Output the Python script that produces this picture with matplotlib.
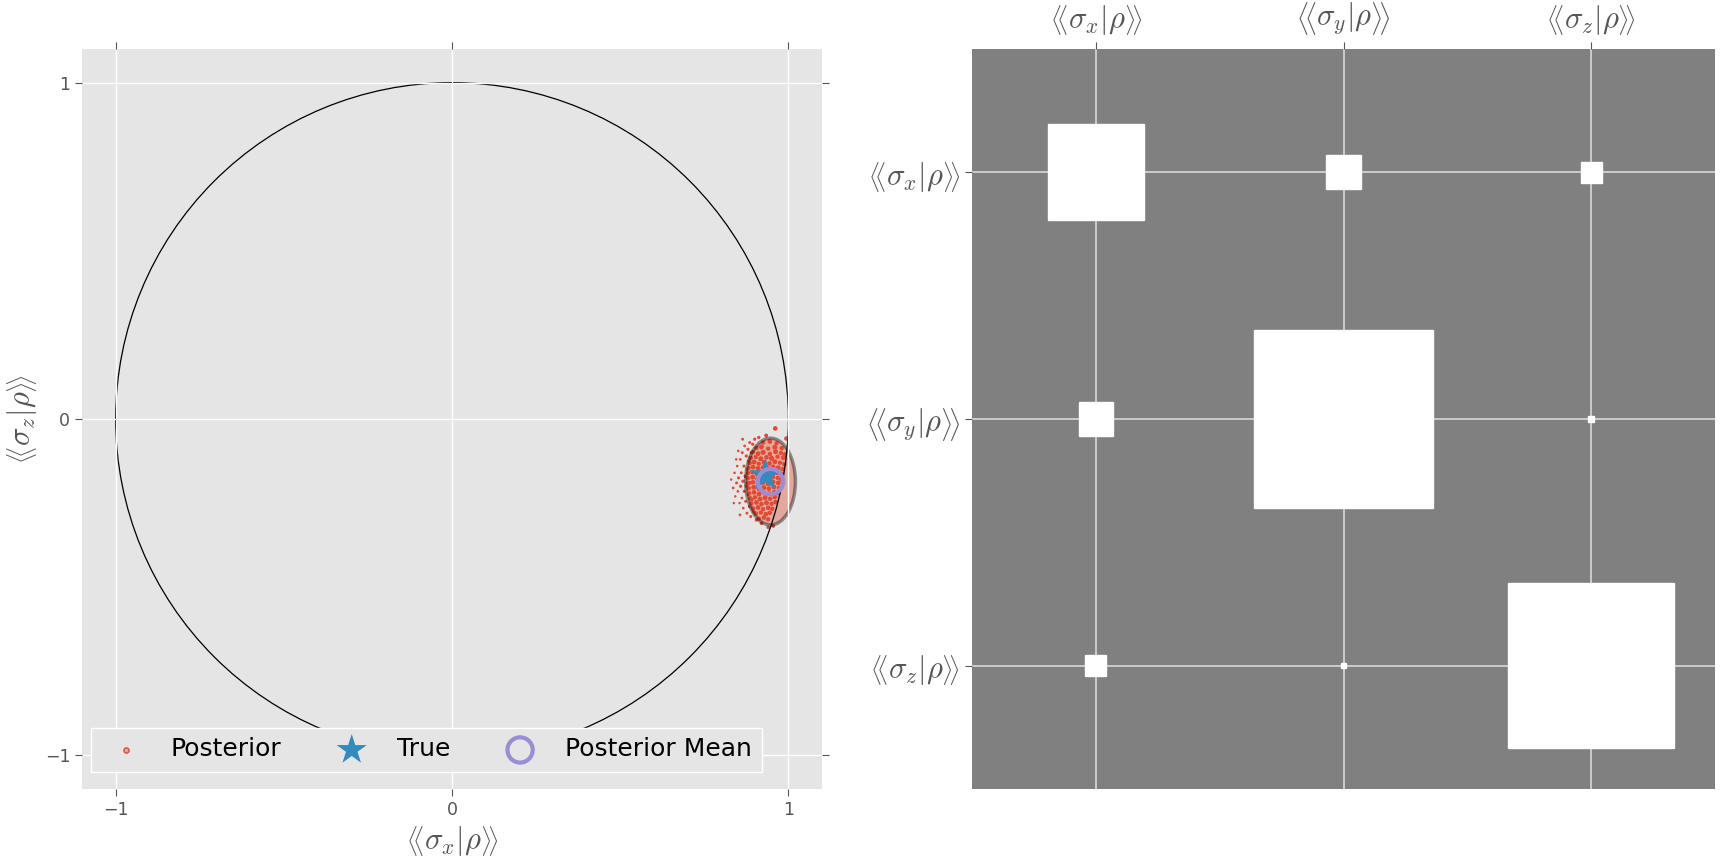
import numpy as np
import matplotlib
matplotlib.use("Agg")
import matplotlib.pyplot as plt
from matplotlib.patches import Ellipse, Circle, Rectangle

plt.rcParams['mathtext.fontset'] = 'cm'

# ---- data: posterior particles (sigma_x, sigma_z) ----
# particles outside the bulk of the posterior (low weight)
out_x = [0.830, 0.836, 0.840, 0.842, 0.846, 0.848, 0.850, 0.852, 0.855, 0.857,
         0.858, 0.860, 0.862, 0.863, 0.865, 0.866, 0.868, 0.869, 0.870, 0.872,
         0.873, 0.875, 0.876, 0.877, 0.878, 0.880, 0.881, 0.882, 0.884, 0.885,
         0.886, 0.888, 0.890, 0.892, 0.894, 0.897, 0.900, 0.905, 0.912, 0.920,
         0.934, 0.961, 0.994, 0.955, 0.940, 0.845, 0.838, 0.856, 0.864, 0.851]
out_y = [-0.180, -0.205, -0.160, -0.230, -0.190, -0.140, -0.215, -0.175, -0.250, -0.120,
         -0.200, -0.160, -0.235, -0.100, -0.185, -0.265, -0.140, -0.215, -0.080, -0.170,
         -0.245, -0.110, -0.200, -0.280, -0.150, -0.090, -0.225, -0.125, -0.260, -0.070,
         -0.190, -0.290, -0.100, -0.240, -0.075, -0.275, -0.060, -0.300, -0.055, -0.310,
         -0.049, -0.028, -0.058, -0.318, -0.322, -0.120, -0.250, -0.285, -0.060, -0.095]
out_w = [0.10, 0.15, 0.12, 0.10, 0.20, 0.12, 0.15, 0.25, 0.10, 0.15,
         0.30, 0.20, 0.15, 0.20, 0.35, 0.15, 0.25, 0.30, 0.15, 0.40,
         0.20, 0.30, 0.45, 0.20, 0.35, 0.25, 0.40, 0.30, 0.25, 0.20,
         0.50, 0.25, 0.40, 0.45, 0.30, 0.35, 0.30, 0.40, 0.35, 0.45,
         0.60, 1.20, 1.10, 0.50, 0.40, 0.12, 0.10, 0.15, 0.20, 0.12]

# particles in the bulk of the posterior
in_x = [0.925, 0.945, 0.965,
        0.905, 0.920, 0.940, 0.960, 0.980,
        0.895, 0.910, 0.925, 0.945, 0.962, 0.978, 0.990,
        0.888, 0.903, 0.918, 0.935, 0.950, 0.968, 0.985,
        0.885, 0.898, 0.912, 0.928, 0.944, 0.960, 0.975, 0.988,
        0.882, 0.895, 0.910, 0.925, 0.940, 0.955, 0.970, 0.984,
        0.880, 0.893, 0.907, 0.922, 0.937, 0.952, 0.967, 0.980,
        0.880, 0.894, 0.908, 0.923, 0.938, 0.953, 0.968, 0.979,
        0.880, 0.895, 0.910, 0.925, 0.940, 0.955, 0.970,
        0.882, 0.897, 0.912, 0.927, 0.942, 0.957, 0.972,
        0.884, 0.898, 0.913, 0.928, 0.943, 0.958, 0.970,
        0.887, 0.901, 0.916, 0.931, 0.946, 0.960,
        0.890, 0.905, 0.920, 0.935, 0.950, 0.962,
        0.895, 0.910, 0.925, 0.940, 0.952,
        0.903, 0.918, 0.933, 0.945,
        0.912, 0.927, 0.940]
in_y = [-0.070, -0.067, -0.072,
        -0.086, -0.083, -0.088, -0.084, -0.087,
        -0.098, -0.103, -0.099, -0.104, -0.097, -0.101, -0.105,
        -0.116, -0.113, -0.118, -0.114, -0.117, -0.112, -0.115,
        -0.131, -0.128, -0.133, -0.129, -0.132, -0.127, -0.130, -0.134,
        -0.146, -0.143, -0.147, -0.144, -0.148, -0.142, -0.145, -0.149,
        -0.161, -0.158, -0.163, -0.159, -0.162, -0.157, -0.160, -0.164,
        -0.176, -0.173, -0.178, -0.174, -0.177, -0.172, -0.175, -0.179,
        -0.191, -0.188, -0.193, -0.189, -0.192, -0.187, -0.190,
        -0.206, -0.203, -0.208, -0.204, -0.207, -0.202, -0.205,
        -0.221, -0.218, -0.223, -0.219, -0.222, -0.217, -0.220,
        -0.236, -0.233, -0.238, -0.234, -0.237, -0.232,
        -0.251, -0.248, -0.253, -0.249, -0.252, -0.247,
        -0.266, -0.263, -0.268, -0.264, -0.267,
        -0.281, -0.278, -0.283, -0.279,
        -0.296, -0.293, -0.298]
in_w = [1.2, 1.6, 1.0,
        1.4, 1.8, 1.1, 2.0, 1.3,
        1.0, 1.7, 2.2, 1.3, 1.9, 1.1, 1.5,
        1.6, 1.1, 2.1, 1.4, 2.3, 1.2, 1.8,
        1.3, 2.0, 1.2, 2.4, 1.5, 1.9, 1.1, 1.6,
        1.1, 1.7, 2.2, 1.3, 2.5, 1.4, 2.0, 1.2,
        1.5, 1.2, 1.9, 2.3, 1.4, 2.1, 1.3, 1.7,
        1.2, 2.0, 1.4, 2.2, 1.6, 2.4, 1.1, 1.5,
        1.8, 1.3, 2.1, 1.5, 2.3, 1.2, 1.9,
        1.4, 1.9, 1.2, 2.2, 1.6, 2.0, 1.3,
        1.1, 1.6, 2.0, 1.3, 1.9, 1.4, 1.7,
        1.5, 1.2, 1.8, 2.1, 1.3, 1.6,
        1.2, 1.7, 1.4, 1.9, 1.2, 1.5,
        1.3, 1.8, 1.1, 1.6, 1.2,
        1.5, 1.2, 1.7, 1.3,
        1.1, 1.4, 1.2]

true_state = [0.932, -0.168]
post_mean = [0.947, -0.186]
# 3-sigma covariance ellipse (width, height in data units, angle in degrees)
ell_width, ell_height, ell_angle = 0.148, 0.258, 0.0

# ---- data: posterior covariance (Hinton diagram) ----
cov_names = [r'\sigma_x', r'\sigma_y', r'\sigma_z']
cov_mtx = np.array([[0.151, 0.019, 0.007],
                    [0.019, 0.518, 0.0005],
                    [0.007, 0.0005, 0.450]])

# ---- colours (old ggplot style) ----
red = '#E24A33'
blue = '#348ABD'
purple = '#988ED5'
txt_gray = '#555555'


def bracket(name):
    return r'$\left\langle\!\left\langle ' + name + r' | \rho \right\rangle\!\right\rangle$'


fig = plt.figure(figsize=(17.21, 8.66), dpi=100)

## LEFT: rebit posterior ________________________________
ax = fig.add_axes([82 / 1721, 77 / 866, 740 / 1721, 740 / 866])
ax.set_facecolor('#E5E5E5')
for s in ax.spines.values():
    s.set_visible(False)
ax.grid(True, color='white', linewidth=1, zorder=-5)

ax.scatter(out_x, out_y, s=10 * np.sqrt(np.array(out_w)), c=red, edgecolors='none', zorder=-10)
ax.scatter(in_x, in_y, s=9 * np.sqrt(np.array(in_w)), c=red, edgecolors='none', zorder=-10,
           label='Posterior')
ax.scatter([true_state[0]], [true_state[1]], marker='*', s=600, c=blue, edgecolors='none',
           label='True', zorder=2)
ax.scatter([post_mean[0]], [post_mean[1]], s=330, facecolors='none', edgecolors=purple,
           linewidths=3, label='Posterior Mean', zorder=3)
ell = Ellipse(post_mean, ell_width, ell_height, angle=ell_angle, facecolor=red, edgecolor='k',
              lw=2.5, alpha=0.4, zorder=-9)
ax.add_patch(ell)
ax.add_patch(Circle((0, 0), 1, color='k', fill=False, lw=0.9, zorder=1))

ax.set_xlim(-1.1, 1.1)
ax.set_ylim(-1.1, 1.1)
ax.set_xticks([-1, 0, 1])
ax.set_yticks([-1, 0, 1])
ax.tick_params(direction='out', length=5, color=txt_gray, labelcolor=txt_gray, labelsize=12.5,
               top=True, right=True)
ax.set_xlabel(bracket(r'\sigma_x'), fontsize=22, color=txt_gray)
ax.set_ylabel(bracket(r'\sigma_z'), fontsize=22, color=txt_gray)

leg = ax.legend(loc='lower center', bbox_to_anchor=(0.4655, 0.0), ncol=3, scatterpoints=1,
                fontsize=18, facecolor='#E5E5E5', edgecolor='white', framealpha=1,
                fancybox=False, borderaxespad=0.7, columnspacing=1.8)
leg.legend_handles[0].set_sizes([14])
leg.legend_handles[0].set_edgecolor(red)
leg.legend_handles[0].set_facecolor('#F0A090')
leg.legend_handles[1].set_sizes([520])
leg.legend_handles[2].set_sizes([330])

## RIGHT: Hinton diagram of covariance _______________________
ax2 = fig.add_axes([972 / 1721, 77 / 866, 743 / 1721, 740 / 866])
ax2.set_facecolor('gray')
for s in ax2.spines.values():
    s.set_visible(False)
ax2.set_axisbelow(True)
ax2.grid(True, color='#D8D8D8', linewidth=1.2)

max_weight = 2 ** np.ceil(np.log2(np.abs(cov_mtx).max()))
for (row, col), w in np.ndenumerate(cov_mtx):
    size = np.sqrt(abs(w) / max_weight)
    color = 'white' if w > 0 else 'black'
    ax2.add_patch(Rectangle((col - size / 2, row - size / 2), size, size,
                            facecolor=color, edgecolor=color, zorder=3))

ax2.set_xlim(-0.5, 2.5)
ax2.set_ylim(2.5, -0.5)
labels = [bracket(nm) for nm in cov_names]
ax2.set_xticks(range(3))
ax2.set_yticks(range(3))
ax2.set_xticklabels(labels)
ax2.set_yticklabels(labels)
ax2.xaxis.tick_top()
ax2.tick_params(direction='out', length=5, color=txt_gray, labelcolor=txt_gray, labelsize=22)

fig.savefig('out.png', dpi=100)
